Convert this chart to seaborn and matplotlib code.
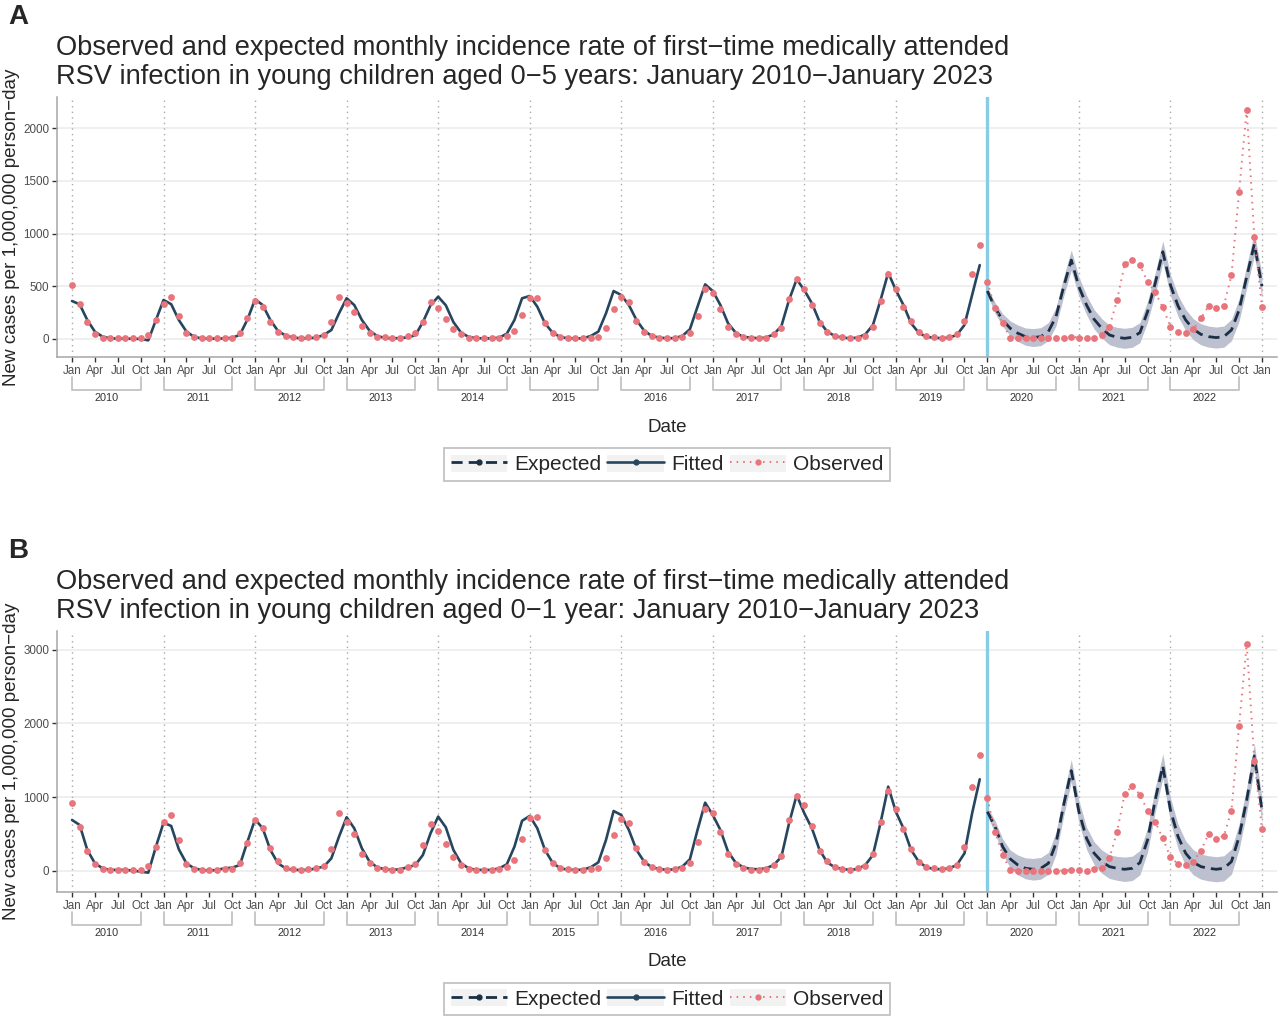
import numpy as np
import matplotlib
matplotlib.use("Agg")
import matplotlib.pyplot as plt
from matplotlib.lines import Line2D
from matplotlib.patches import Rectangle
from matplotlib.legend_handler import HandlerTuple
import seaborn as sns

# months run Jan 2010 (0) .. Jan 2023 (156)
month_names = ["Jan", "Apr", "Jul", "Oct"]
years = list(range(2010, 2023))

# panel A: children aged 0-5 years
fitted_a = [
    360, 329, 180, 69, 22, 6, 3, 3, 2, 0, -13, 180,
    370, 330, 180, 70, 20, 5, 3, 3, 5, 10, 40, 185,
    376, 322, 180, 76, 32, 13, 6, 8, 12, 38, 85, 243,
    386, 322, 180, 79, 28, 10, 6, 8, 15, 35, 160, 320,
    401, 320, 160, 60, 19, 8, 5, 5, 12, 50, 180, 386,
    408, 306, 149, 60, 19, 6, 5, 6, 28, 70, 243, 455,
    417, 322, 180, 79, 28, 13, 6, 8, 28, 92, 306, 518,
    455, 322, 149, 60, 19, 13, 6, 13, 44, 123, 370, 566,
    464, 338, 164, 70, 28, 13, 6, 13, 44, 133, 370, 629,
    464, 322, 149, 60, 19, 13, 6, 13, 38, 133, 417, 701,
]
observed_a = [
    512, 329, 164, 47, 13, 6, 6, 6, 6, 6, 35, 180,
    329, 401, 218, 54, 16, 8, 6, 6, 10, 12, 54, 202,
    360, 300, 158, 66, 25, 19, 6, 19, 22, 38, 158, 400,
    344, 259, 123, 54, 22, 16, 6, 6, 28, 54, 164, 348,
    290, 186, 98, 44, 13, 6, 6, 6, 13, 28, 79, 225,
    386, 392, 149, 54, 16, 6, 6, 6, 13, 22, 101, 281,
    401, 348, 171, 63, 28, 13, 6, 6, 22, 54, 218, 471,
    439, 287, 117, 44, 22, 6, 6, 6, 44, 108, 376, 566,
    474, 322, 149, 70, 31, 16, 6, 10, 28, 117, 360, 613,
    471, 306, 171, 70, 31, 16, 13, 22, 44, 173, 616, 888,
    543, 290, 149, 13, 6, 6, 6, 6, 6, 6, 6, 22,
    13, 6, 13, 38, 111, 370, 708, 749, 701, 543, 442, 300,
    117, 70, 60, 92, 196, 313, 297, 313, 607, 1397, 2177, 964,
    306,
]
expected_a = [
    455, 295, 180, 101, 54, 22, 13, 22, 70, 212, 496, 749,
    496, 322, 186, 101, 38, 16, 6, 16, 60, 259, 528, 828,
    512, 313, 180, 92, 44, 22, 13, 22, 85, 275, 591, 900,
    500,
]
halfwidth_a = [
    35, 50, 60, 70, 78, 82, 85, 85, 85, 88, 92, 95,
    92, 92, 92, 92, 92, 94, 95, 95, 95, 97, 100, 102,
    100, 100, 100, 100, 100, 100, 100, 100, 102, 105, 108, 112,
    110,
]

# panel B: children aged 0-1 year
fitted_b = [
    691, 624, 285, 104, 36, 14, 14, 14, 5, -9, -23, 330,
    655, 610, 294, 104, 36, 14, 5, 14, 36, 45, 81, 398,
    700, 578, 285, 104, 36, 14, 14, 14, 36, 59, 172, 465,
    728, 578, 307, 127, 50, 23, 14, 23, 50, 81, 217, 511,
    737, 592, 285, 104, 36, 14, 14, 14, 36, 90, 330, 680,
    746, 578, 285, 113, 36, 18, 14, 18, 50, 117, 420, 813,
    759, 556, 285, 127, 50, 27, 14, 23, 59, 158, 556, 926,
    759, 556, 262, 113, 50, 27, 23, 36, 81, 194, 646, 1030,
    782, 578, 285, 117, 50, 27, 14, 27, 81, 217, 655, 1143,
    804, 578, 285, 127, 50, 27, 23, 36, 81, 240, 782, 1243,
]
observed_b = [
    917, 601, 276, 90, 23, 9, 9, 9, 9, 14, 68, 330,
    660, 759, 420, 95, 27, 9, 9, 14, 23, 27, 104, 384,
    691, 578, 307, 136, 45, 27, 14, 23, 36, 72, 298, 791,
    669, 497, 230, 104, 45, 23, 9, 14, 50, 95, 348, 637,
    547, 361, 185, 81, 27, 9, 9, 9, 23, 59, 149, 434,
    714, 737, 285, 104, 36, 23, 9, 14, 23, 45, 181, 488,
    700, 646, 316, 122, 59, 27, 18, 23, 45, 104, 398, 836,
    791, 533, 226, 90, 41, 18, 14, 27, 81, 203, 691, 1017,
    890, 610, 271, 140, 59, 32, 18, 36, 68, 226, 660, 1089,
    836, 565, 298, 117, 59, 36, 27, 41, 81, 321, 1143, 1573,
    985, 533, 217, 14, 5, 5, 5, 5, 5, 5, 5, 14,
    14, 5, 23, 45, 172, 529, 1044, 1152, 1035, 818, 664, 443,
    185, 95, 81, 127, 276, 502, 438, 474, 818, 1970, 3077, 1496,
    574,
]
expected_b = [
    804, 601, 330, 163, 81, 36, 23, 36, 104, 375, 895, 1360,
    804, 443, 240, 127, 59, 36, 23, 36, 113, 420, 962, 1423,
    827, 465, 240, 117, 59, 36, 23, 36, 127, 465, 962, 1559,
    818,
]
halfwidth_b = [
    60, 85, 105, 120, 135, 142, 147, 147, 147, 150, 150, 150,
    150, 150, 155, 158, 160, 162, 165, 165, 165, 165, 165, 165,
    165, 165, 168, 170, 170, 170, 170, 170, 170, 170, 170, 170,
    165,
]

titles = [
    ["Observed and expected monthly incidence rate of first\u2212time medically attended",
     "RSV infection in young children aged 0\u22125 years: January 2010\u2212January 2023"],
    ["Observed and expected monthly incidence rate of first\u2212time medically attended",
     "RSV infection in young children aged 0\u22121 year: January 2010\u2212January 2023"],
]
ylabel = "New cases per 1,000,000 person\u2212day"

W, H = 1280, 1017
sns.set_theme(style="white")
plt.rcParams["font.family"] = ["Liberation Sans", "DejaVu Sans"]

C_FIT = "#26465f"
C_EXP = "#1b2f47"
C_OBS = "#e8747c"
C_BAND = "#bcc0cf"
C_CUT = "#88cde3"
EXP_LS = (0, (4, 2.2))
OBS_LS = (0, (0.8, 2.6))

fig = plt.figure(figsize=(12.8, 10.17), dpi=100)


def px_axes(l, t, r, b):
    return fig.add_axes([l / W, 1 - b / H, (r - l) / W, (b - t) / H])


def draw_panel(ax, fitted, observed, expected, halfwidth, yticks, ylim, hpx):
    n_fit = len(fitted)
    t_fit = np.arange(n_fit)
    t_obs = np.arange(len(observed))
    t_exp = np.arange(len(expected)) + n_fit
    exp = np.array(expected, float)
    hw = np.array(halfwidth, float)

    ax.set_xlim(-1.97, 157.97)
    ax.set_ylim(*ylim)
    for yt in yticks:
        ax.axhline(yt, color="#ebebeb", lw=1.1, zorder=0)
    for k in range(14):
        m = 12 * k
        if m == n_fit:
            ax.axvline(m, color=C_CUT, lw=2.4, zorder=1)
        else:
            ax.axvline(m, color="#a8a8a8", lw=1.0, ls=(0, (1, 3)), zorder=1)

    ax.fill_between(t_exp, exp - hw, exp + hw, color=C_BAND, lw=0, zorder=2)
    sns.lineplot(x=t_fit, y=fitted, ax=ax, color=C_FIT, lw=1.9, zorder=3)
    sns.lineplot(x=t_exp, y=exp, ax=ax, color=C_EXP, lw=2.0, zorder=4)
    ax.lines[-1].set_linestyle(EXP_LS)
    sns.lineplot(x=t_obs[n_fit:], y=observed[n_fit:], ax=ax, color=C_OBS, lw=1.4, zorder=5)
    ax.lines[-1].set_linestyle(OBS_LS)
    sns.scatterplot(x=t_obs, y=observed, ax=ax, color=C_OBS, s=24, linewidth=0, zorder=6)

    ax.set_xlabel("")
    ax.set_ylabel("")
    xt = list(range(0, 157, 3))
    ax.set_xticks(xt)
    ax.set_xticklabels([month_names[(i // 3) % 4] for i in xt])
    ax.set_yticks(yticks)
    ax.set_yticklabels([str(v) for v in yticks])
    ax.tick_params(axis="both", bottom=True, left=True, length=3.5, width=1,
                   color="#333333", labelsize=8.4, labelcolor="#4d4d4d")
    ax.tick_params(axis="x", pad=2)
    ax.tick_params(axis="y", pad=2)
    for s in ["top", "right"]:
        ax.spines[s].set_visible(False)
    for s in ["left", "bottom"]:
        ax.spines[s].set_color("#a6a6a6")
        ax.spines[s].set_linewidth(1.1)

    tr = ax.get_xaxis_transform()
    y0, y1, yt_ = -19.5 / hpx, -32.5 / hpx, -40.5 / hpx
    for i, yr in enumerate(years):
        x0, x1 = 12 * i, 12 * i + 9
        ax.plot([x0, x0, x1, x1], [y0, y1, y1, y0], transform=tr, clip_on=False,
                color="#bdbdbd", lw=1.2)
        ax.text(12 * i + 4.5, yt_, str(yr), transform=tr, ha="center", va="center",
                fontsize=7.8, color="#333333")


panels = [
    dict(label="A", top=97, bottom=357.5, fitted=fitted_a, observed=observed_a,
         expected=expected_a, halfwidth=halfwidth_a, yticks=[0, 500, 1000, 1500, 2000],
         ylim=(-176, 2297)),
    dict(label="B", top=631, bottom=892, fitted=fitted_b, observed=observed_b,
         expected=expected_b, halfwidth=halfwidth_b, yticks=[0, 1000, 2000, 3000],
         ylim=(-285, 3253)),
]

for p, ttl in zip(panels, titles):
    top, bot = p["top"], p["bottom"]
    ax = px_axes(57, top, 1277, bot)
    draw_panel(ax, p["fitted"], p["observed"], p["expected"], p["halfwidth"],
               p["yticks"], p["ylim"], bot - top)

    # panel letter, title, axis titles
    fig.text(18 / W, 1 - (top - 80) / H, p["label"], fontsize=20, fontweight="bold",
             ha="center", va="center")
    fig.text(56 / W, 1 - (top - 49) / H, ttl[0], fontsize=19.6, ha="left", va="center")
    fig.text(56 / W, 1 - (top - 20) / H, ttl[1], fontsize=19.6, ha="left", va="center")
    fig.text(12 / W, 1 - ((top + bot) / 2) / H, ylabel, fontsize=13.6, rotation=90,
             ha="center", va="center")
    fig.text(667 / W, 1 - (bot + 70) / H, "Date", fontsize=13.5, ha="center", va="center")

    # legend
    def key(line):
        return (Rectangle((0, 0), 1, 1, facecolor="#f2f2f2", edgecolor="none"), line)

    h_exp = Line2D([], [], color=C_EXP, lw=2.0, ls=EXP_LS, marker="o", markersize=3.5)
    h_fit = Line2D([], [], color=C_FIT, lw=1.9, marker="o", markersize=3.5)
    h_obs = Line2D([], [], color=C_OBS, lw=1.4, ls=OBS_LS, marker="o", markersize=3.5)
    leg = fig.legend([key(h_exp), key(h_fit), key(h_obs)], ["Expected", "Fitted", "Observed"],
                     loc="center", bbox_to_anchor=(667 / W, 1 - (bot + 107) / H), ncol=3,
                     frameon=True, fancybox=False, edgecolor="#b3b3b3", fontsize=15,
                     handlelength=2.7, handleheight=0.9, handletextpad=0.35,
                     columnspacing=0.3, borderpad=0.3, numpoints=1,
                     handler_map={tuple: HandlerTuple(ndivide=1, pad=0)})
    leg.get_frame().set_linewidth(1.3)

fig.savefig("out.png", dpi=100)
